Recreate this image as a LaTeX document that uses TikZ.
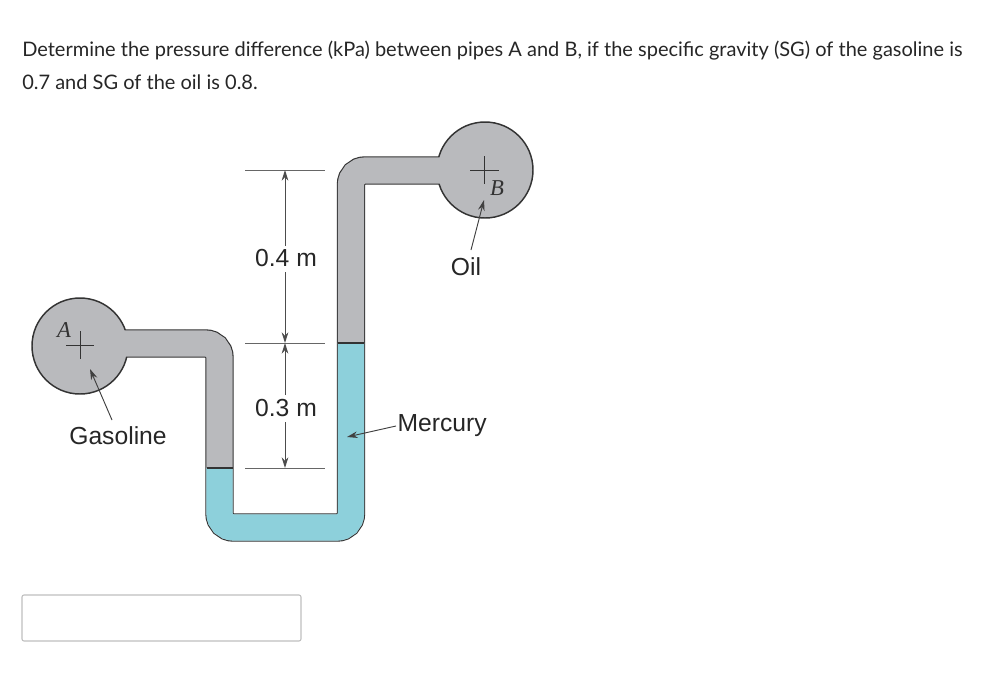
\documentclass[tikz,border=0pt]{standalone}
\usepackage{fontspec}
\setmainfont{Lato}
\setsansfont{Liberation Sans}
\newfontfamily\serifit{Liberation Serif}
\usetikzlibrary{arrows.meta}
\begin{document}
\begin{tikzpicture}[x=0.75pt,y=-0.75pt,
  lbl/.style={font=\sffamily\fontsize{18.5}{20}\selectfont,text=black!85,inner sep=1pt},
  dim/.style={draw=black!60,line width=0.6pt},
  ptr/.style={draw=black!75,line width=0.7pt,-{Stealth[length=8pt,width=5pt]}}]
\useasboundingbox (0,0) rectangle (990,672);
\definecolor{pg}{HTML}{B9BABD}\definecolor{hg}{HTML}{8DD0DB}
\node[anchor=west,font=\fontsize{15}{18}\selectfont,text=black!85,inner sep=0] (t1) at (22,51) {Determine the pressure difference (kPa) between pipes A and B, if the specific gravity (SG) of the gasoline is};
\node[anchor=west,font=\fontsize{15}{18}\selectfont,text=black!85,inner sep=0] (t2) at (22,82) {0.7 and SG of the oil is 0.8.};
% pipe
\def\pipe{(80,343.5) -- (219.5,343.5) -- (219.5,527.5) -- (351,527.5) -- (351,170.5) -- (485,170.5)}
\draw[line width=21.3pt,black!80,rounded corners=10.5pt] \pipe;
\fill[pg,draw=black!80,line width=1.1pt] (80,346) circle (48);
\fill[pg,draw=black!80,line width=1.1pt] (485,170) circle (48);
\draw[line width=19.6pt,pg,rounded corners=10.5pt] \pipe;
\draw[line width=19.6pt,hg,rounded corners=10.5pt] (219.5,468) -- (219.5,527.5) -- (351,527.5) -- (351,343);
\draw[black!80,line width=0.8pt] (206.5,468) -- (232.5,468) (338,343) -- (364,343);
% plus marks
\draw[black!80,line width=0.6pt] (66,345)--(94,345) (80,331)--(80,359);
\draw[black!80,line width=0.6pt] (470,170)--(499,170) (484,156)--(484,184);
\node[font=\serifit\itshape\fontsize{17}{18}\selectfont,text=black!80,inner sep=0] (A) at (64,330) {A};
\node[font=\serifit\itshape\fontsize{17}{18}\selectfont,text=black!80,inner sep=0] (B) at (497,188) {B};
% dimensions
\draw[dim] (245,170)--(325,170) (245,343)--(325,343) (245,468)--(325,468);
\node[lbl] (d1) at (286,258) {0.4 m};
\node[lbl] (d2) at (286,408) {0.3 m};
\coordinate (c1) at (285,170);\coordinate (c2) at (285,343);\coordinate (c3) at (285,468);
\draw[ptr,draw=black!70] (285,246) -- (c1);
\draw[ptr,draw=black!70] (285,272) -- (c2);
\draw[ptr,draw=black!70] (285,395) -- (c2);
\draw[ptr,draw=black!70] (285,422) -- (c3);
% labels
\node[lbl] (oil) at (466,267) {Oil};
\coordinate (po) at (484,200);
\draw[ptr] (471,250) -- (po);
\node[lbl,anchor=west] (hg) at (396,426) {Mercury};
\coordinate (ph) at (347,437);
\draw[ptr] (hg.west) -- (ph);
\node[lbl] (gas) at (118,436) {Gasoline};
\coordinate (pgz) at (90,369);
\draw[ptr] (112,420) -- (pgz);
% answer box
\draw[black!25,line width=0.8pt,rounded corners=1.5pt] (22,595) rectangle (301,641);
\end{tikzpicture}
\end{document}
